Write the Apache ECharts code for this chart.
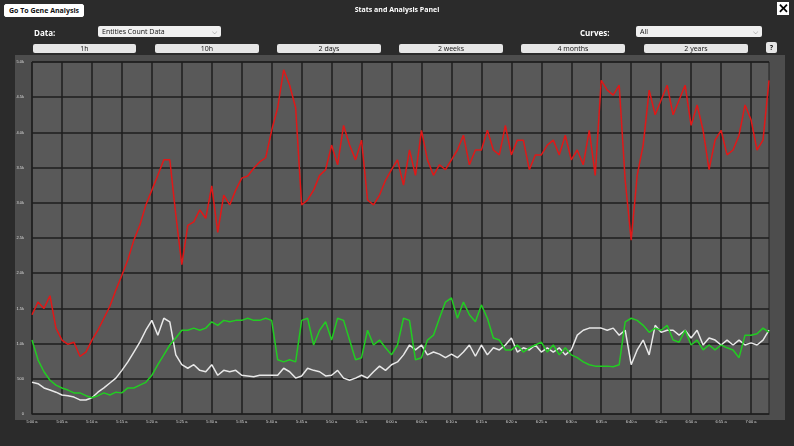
<!DOCTYPE html>
<html><head><meta charset="utf-8">
<script src="https://cdn.jsdelivr.net/npm/echarts@6/dist/echarts.min.js"></script>
<style>
body{margin:0;background:#2b2b2b;font-family:"Open Sans",sans-serif;}
#wrap{position:relative;width:794px;height:446px;overflow:hidden;}
#panel{position:absolute;left:15px;top:55px;width:770px;height:365px;background:#4d4d4d;}
#chart{position:absolute;left:0;top:0;width:794px;height:446px;}
.btn{position:absolute;background:#e6e6e6;color:#111;font-size:7px;text-align:center;border-radius:2px;height:9px;line-height:9px;}
.lbl{position:absolute;color:#fff;font-size:8px;font-weight:bold;}
.sel{position:absolute;background:#f0f0f0;color:#111;font-size:7px;height:11px;line-height:11px;padding-left:4px;border-radius:2px;}
</style></head><body>
<div id="wrap">
<div id="panel"></div>
<div id="chart"></div>
<div class="btn" style="left:4px;top:4px;width:78px;height:11px;line-height:11px;font-weight:bold;border:1px solid #fff;background:#fff">Go To Gene Analysis</div>
<div class="lbl" style="left:0;width:794px;text-align:center;top:5px;font-size:7px">Stats and Analysis Panel</div>
<div class="lbl" style="left:777px;top:2px;font-size:13px;background:#fff;color:#000;width:12px;height:13px;line-height:13px;text-align:center">✕</div>
<div class="lbl" style="left:34px;top:27px">Data:</div>
<div class="sel" style="left:98px;top:26px;width:119px">Entities Count Data<span style="float:right;padding-right:4px">⌵</span></div>
<div class="lbl" style="left:580px;top:27px">Curves:</div>
<div class="sel" style="left:636px;top:26px;width:122px">All<span style="float:right;padding-right:4px">⌵</span></div>
<div class="btn" style="left:33px;top:44px;width:103px">1h</div>
<div class="btn" style="left:155px;top:44px;width:104px">10h</div>
<div class="btn" style="left:277px;top:44px;width:104px">2 days</div>
<div class="btn" style="left:399px;top:44px;width:104px">2 weeks</div>
<div class="btn" style="left:521px;top:44px;width:104px">4 months</div>
<div class="btn" style="left:644px;top:44px;width:104px">2 years</div>
<div class="btn" style="left:766px;top:42px;width:11px;height:11px;line-height:11px;font-weight:bold">?</div>
</div>
<script>
const xLabels=["5:00 a","5:05 a","5:10 a","5:15 a","5:20 a","5:25 a","5:30 a","5:35 a","5:40 a","5:45 a","5:50 a","5:55 a","6:00 a","6:05 a","6:10 a","6:15 a","6:20 a","6:25 a","6:30 a","6:35 a","6:40 a","6:45 a","6:50 a","6:55 a","7:00 a","7:05 a"];
const red=[1410,1590,1500,1680,1220,1050,990,1020,820,880,1050,1190,1360,1530,1760,1970,2190,2470,2680,2970,3180,3390,3610,3610,2830,2120,2680,2730,2900,2780,3240,2580,3110,2970,3180,3350,3380,3490,3580,3640,4030,4350,4890,4670,4350,2970,3040,3180,3390,3470,3820,3540,4100,3820,3610,3890,3040,2970,3110,3320,3470,3610,3250,3750,3390,4030,3610,3390,3540,3470,3610,3750,3960,3540,3750,3750,4030,3750,3680,4100,3680,3890,3890,3470,3680,3680,3820,3890,3680,3960,3610,3750,3540,4030,3390,4740,4600,4530,4670,3320,2470,3390,3820,4600,4250,4460,4670,4250,4460,4670,4100,4390,4030,3470,3890,4030,3680,3750,3960,4390,4180,3750,3890,4740];
const green=[1050,770,600,480,410,370,340,300,300,260,230,260,300,270,310,300,370,370,410,450,550,700,840,980,1080,1190,1190,1220,1190,1220,1310,1260,1330,1310,1330,1330,1360,1330,1330,1360,1330,770,740,770,740,1330,1360,980,1190,1310,1050,1360,1330,1050,770,800,1190,980,1050,940,840,980,1360,1330,770,800,1050,1120,1360,1590,1650,1360,1590,1410,1310,1550,1360,1080,1050,910,910,980,880,940,980,1020,880,980,840,940,840,800,740,700,680,680,680,670,700,1310,1360,1330,1260,1160,1220,1190,1260,1050,1020,1190,980,1050,910,980,910,980,940,910,800,1120,1120,1140,1220,1160];
const white=[450,430,370,340,310,270,260,240,200,200,230,310,370,440,510,620,740,880,1020,1190,1330,1120,1360,1310,840,700,650,700,620,600,700,550,620,600,620,550,540,530,550,550,550,550,650,600,510,540,650,620,600,540,550,620,510,480,510,550,510,600,680,620,700,740,840,980,910,980,840,880,850,800,850,800,880,980,820,980,840,940,910,980,1080,880,940,910,980,880,940,880,940,840,910,1120,1190,1220,1220,1220,1190,1220,1120,1190,700,910,1050,840,1260,1160,1190,1190,1120,1190,1080,1190,980,1080,1050,980,1050,980,1050,980,1010,980,1050,1190];
const cats=red.map((_,i)=>i%5===0?(xLabels[i/5]||''):'');
const chart=echarts.init(document.getElementById('chart'));
const mk=(d,c)=>({type:'line',data:d,symbol:'none',lineStyle:{color:c,width:1.5},itemStyle:{color:c}});
chart.setOption({
 animation:false,
 grid:{left:32,right:25,top:62,bottom:32,show:true,backgroundColor:'#595959',borderColor:'#222',borderWidth:1},
 xAxis:{type:'category',data:cats,boundaryGap:false,
  axisLine:{lineStyle:{color:'#222'}},axisTick:{show:false},
  axisLabel:{interval:4,color:'#ddd',fontSize:4,margin:6},
  splitLine:{show:true,interval:4,lineStyle:{color:'#1e1e1e',width:1.5}}},
 yAxis:{type:'value',min:0,max:5000,interval:500,
  axisLine:{show:false},axisTick:{show:false},
  axisLabel:{color:'#ddd',fontSize:4,margin:8,formatter:v=>v===0?'0':(v<1000?String(v):(v/1000).toFixed(1)+'k')},
  splitLine:{lineStyle:{color:'#1e1e1e',width:1.5}}},
 series:[mk(white,'#e8e8e8'),mk(green,'#22cc22'),mk(red,'#e01818')]
});
</script></body></html>
